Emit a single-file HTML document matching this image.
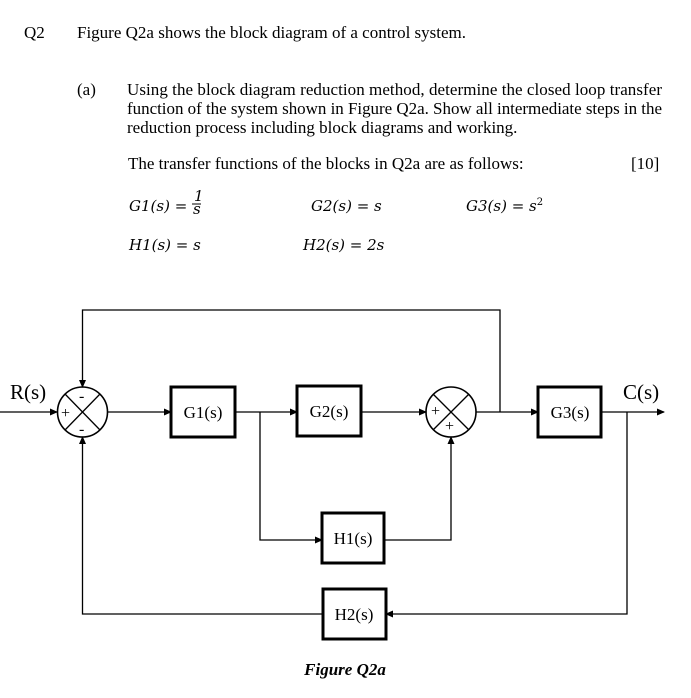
<!DOCTYPE html>
<html><head><meta charset="utf-8"><style>
html,body{margin:0;padding:0;background:#fff;}
svg{display:block;}
text{font-family:"Liberation Serif",serif;fill:#000;}
.m{font-family:"DejaVu Serif","Liberation Serif",serif;font-style:italic;font-size:15px;}
</style></head><body>
<svg width="691" height="698" viewBox="0 0 691 698" xmlns="http://www.w3.org/2000/svg">
<defs><marker id="a" markerWidth="8" markerHeight="8" refX="7" refY="4" orient="auto" markerUnits="userSpaceOnUse"><path d="M0,0.5 L8,4 L0,7.5z" fill="#000"/></marker></defs>
<g font-size="17">
<text x="24" y="38">Q2</text>
<text x="77" y="38">Figure Q2a shows the block diagram of a control system.</text>
<text x="77" y="95">(a)</text>
<text x="127" y="95" textLength="535" lengthAdjust="spacing">Using the block diagram reduction method, determine the closed loop transfer</text>
<text x="127" y="114" textLength="535" lengthAdjust="spacing">function of the system shown in Figure Q2a. Show all intermediate steps in the</text>
<text x="127" y="133">reduction process including block diagrams and working.</text>
<text x="128" y="169">The transfer functions of the blocks in Q2a are as follows:</text>
<text x="631" y="169">[10]</text>
</g>
<text class="m" x="129" y="211">G1(s) = </text>
<text class="m" x="194" y="201" font-size="10" font-style="normal">1</text>
<line x1="192" y1="204" x2="201" y2="204" stroke="#000" stroke-width="1"/>
<text class="m" x="193" y="214" font-size="10">s</text>
<text class="m" x="311" y="211">G2(s) =  s</text>
<text class="m" x="466" y="211">G3(s) = s<tspan font-size="10" dy="-6" font-style="normal">2</tspan></text>
<text class="m" x="129" y="250">H1(s) = s</text>
<text class="m" x="303" y="250">H2(s) = 2s</text>

<g stroke="#000" stroke-width="1.3" fill="none">
<line x1="0" y1="412" x2="57" y2="412" marker-end="url(#a)"/>
<circle cx="82.5" cy="412" r="25" stroke-width="1.6"/>
<line x1="65" y1="394" x2="100" y2="430"/>
<line x1="100" y1="394" x2="65" y2="430"/>
<line x1="108" y1="412" x2="171" y2="412" marker-end="url(#a)"/>
<rect x="171" y="387" width="64" height="50" stroke-width="3"/>
<line x1="235" y1="412" x2="297" y2="412" marker-end="url(#a)"/>
<rect x="297" y="386" width="64" height="50" stroke-width="3"/>
<line x1="361" y1="412" x2="426" y2="412" marker-end="url(#a)"/>
<circle cx="451" cy="412" r="25" stroke-width="1.6"/>
<line x1="433" y1="394" x2="469" y2="430"/>
<line x1="469" y1="394" x2="433" y2="430"/>
<line x1="476" y1="412" x2="538" y2="412" marker-end="url(#a)"/>
<rect x="538" y="387" width="63" height="50" stroke-width="3"/>
<line x1="601" y1="412" x2="664" y2="412" marker-end="url(#a)"/>
<polyline points="500,412 500,310 82.5,310 82.5,387" marker-end="url(#a)"/>
<polyline points="260,412 260,540 322,540" marker-end="url(#a)"/>
<rect x="322" y="513" width="62" height="50" stroke-width="3"/>
<polyline points="384,540 451,540 451,437" marker-end="url(#a)"/>
<polyline points="627,412 627,614 386,614" marker-end="url(#a)"/>
<rect x="323" y="589" width="63" height="50" stroke-width="3"/>
<polyline points="323,614 82.5,614 82.5,437" marker-end="url(#a)"/>
</g>
<text x="61" y="418" font-size="16" fill="#1a3fa0">+</text>
<text x="79" y="401" font-size="16">-</text>
<text x="79" y="434" font-size="16">-</text>
<text x="431" y="416" font-size="16">+</text>
<text x="445" y="431" font-size="16">+</text>
<g font-size="17" text-anchor="middle">
<text x="203" y="418">G1(s)</text>
<text x="329" y="417">G2(s)</text>
<text x="570" y="418">G3(s)</text>
<text x="353" y="544">H1(s)</text>
<text x="354" y="620">H2(s)</text>
</g>
<text x="10" y="399" font-size="21">R(s)</text>
<text x="623" y="399" font-size="21">C(s)</text>
<text x="345" y="675" font-size="17" font-weight="bold" font-style="italic" text-anchor="middle">Figure Q2a</text>
</svg>
</body></html>
